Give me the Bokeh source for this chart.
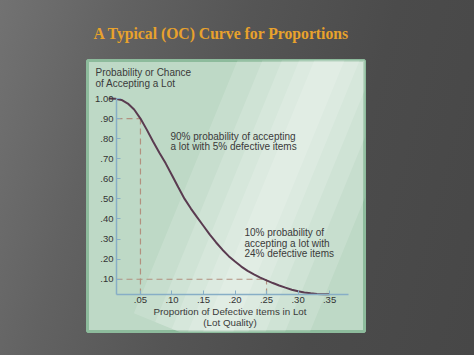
import math
from bokeh.plotting import figure
from bokeh.models import Label, FixedTicker, Range1d, GlobalInlineStyleSheet, PolyAnnotation
from bokeh.embed import file_html
from bokeh.resources import INLINE

# ---------------- data ----------------
defect = [0.00, 0.01, 0.02, 0.03, 0.04, 0.05, 0.06, 0.07, 0.08, 0.09,
          0.10, 0.11, 0.12, 0.13, 0.14, 0.15, 0.16, 0.17, 0.18, 0.19,
          0.20, 0.21, 0.22, 0.23, 0.24, 0.25, 0.26, 0.27, 0.28, 0.29,
          0.30, 0.31, 0.32, 0.33, 0.34, 0.35]
p_accept = [1.000, 0.999, 0.993, 0.975, 0.945, 0.900, 0.845, 0.786, 0.730, 0.677,
            0.618, 0.558, 0.500, 0.452, 0.408, 0.365, 0.322, 0.283, 0.247, 0.215,
            0.188, 0.163, 0.142, 0.124, 0.108, 0.094, 0.081, 0.069, 0.058, 0.048,
            0.040, 0.034, 0.030, 0.027, 0.025, 0.025]

ref_defect = [0.05, 0.25]     # marked lot qualities
ref_accept = [0.90, 0.10]     # their acceptance probabilities

x_ticks = [0.05, 0.10, 0.15, 0.20, 0.25, 0.30, 0.35]
x_tick_labels = [".05", ".10", ".15", ".20", ".25", ".30", ".35"]
y_ticks = [0.10, 0.20, 0.30, 0.40, 0.50, 0.60, 0.70, 0.80, 0.90, 1.00]
y_tick_labels = [".10", ".20", ".30", ".40", ".50", ".60", ".70", ".80", ".90", "1.00"]

title_text = "A Typical (OC) Curve for Proportions"
y_title = ["Probability or Chance", "of Accepting a Lot"]
x_title = ["Proportion of Defective Items in Lot", "(Lot Quality)"]
note_90 = ["90% probability of accepting", "a lot  with 5% defective items"]
note_10 = ["10% probability of", "accepting a lot with", "24% defective items"]

# ---------------- layout ----------------
W, H = 458, 339
AX_X0, AX_X1 = 0.012, 0.380       # extent of the drawn x axis
AX_Y0, AX_Y1 = 0.024, 1.0         # extent of the drawn y axis
AX_LEFT, AX_RIGHT, AX_TOP, AX_BOTTOM = 116, 348, 98, 294      # axis box, px
PANEL_LEFT, PANEL_RIGHT, PANEL_TOP, PANEL_BOTTOM = 87, 364, 60, 331  # green panel, px

kx = (AX_X1 - AX_X0) / (AX_RIGHT - AX_LEFT)
ky = (AX_Y1 - AX_Y0) / (AX_BOTTOM - AX_TOP)


def dx(px):
    return AX_X0 + (px - AX_LEFT) * kx


def dy(py):
    return AX_Y0 + (AX_BOTTOM - py) * ky


SANS = "Liberation Sans"
PAGE_CSS = ("html { min-height: 100%; background: linear-gradient(105deg, "
            "#727272 0%, #626262 22%, #555555 45%, #4b4b4b 70%, #474747 100%); }"
            " body { background: transparent; }")

p = figure(width=W, height=H, output_backend="svg", toolbar_location=None,
           x_range=Range1d(dx(PANEL_LEFT), dx(PANEL_RIGHT)),
           y_range=Range1d(dy(PANEL_BOTTOM), dy(PANEL_TOP)),
           min_border_left=PANEL_LEFT, min_border_right=W - PANEL_RIGHT,
           min_border_top=PANEL_TOP, min_border_bottom=max(H - PANEL_BOTTOM, 0))
p.border_fill_alpha = 0
p.background_fill_color = "#bed9c6"
p.outline_line_color = "#8dbb9c"
p.outline_line_width = 3
p.grid.visible = False
p.stylesheets = [GlobalInlineStyleSheet(css=PAGE_CSS)]

# soft diagonal sheen on the panel (stacked translucent bands)
SHEEN_A, SHEEN_B = (212, 345), (335, 45)
ddx, ddy = SHEEN_B[0] - SHEEN_A[0], SHEEN_B[1] - SHEEN_A[1]
dlen = math.hypot(ddx, ddy)
nx, ny = -ddy / dlen, ddx / dlen
for half_w in (85, 62, 44, 28, 14):
    pts = [(SHEEN_A[0] + half_w * nx, SHEEN_A[1] + half_w * ny),
           (SHEEN_B[0] + half_w * nx, SHEEN_B[1] + half_w * ny),
           (SHEEN_B[0] - half_w * nx, SHEEN_B[1] - half_w * ny),
           (SHEEN_A[0] - half_w * nx, SHEEN_A[1] - half_w * ny)]
    p.add_layout(PolyAnnotation(xs=[dx(a) for a, b in pts], ys=[dy(b) for a, b in pts],
                                xs_units="data", ys_units="data",
                                fill_color="white", fill_alpha=0.15,
                                line_color=None, level="underlay"))

p.title.text = title_text
p.title.text_font = "Liberation Serif"
p.title.text_font_style = "bold"
p.title.text_font_size = "15.7px"
p.title.text_color = "#e8a22c"
p.title.align = "left"
p.title.vertical_align = "top"
p.title.offset = 93 - PANEL_LEFT
p.title.standoff = 34

# axes
p.xaxis.fixed_location = AX_Y0
p.yaxis.fixed_location = AX_X0
p.xaxis.bounds = (AX_X0, AX_X1)
p.yaxis.bounds = (AX_Y0, AX_Y1)
for ax in (p.xaxis[0], p.yaxis[0]):
    ax.axis_line_color = "#87aec6"
    ax.axis_line_width = 1.5
    ax.major_tick_line_color = "#87aec6"
    ax.major_tick_in = 4
    ax.major_tick_out = 0
    ax.minor_tick_line_color = None
    ax.major_label_text_font = SANS
    ax.major_label_text_font_size = "9.5px"
    ax.major_label_text_color = "#333333"
p.xaxis.major_label_standoff = 2
p.yaxis.major_label_standoff = 3

p.xaxis.ticker = FixedTicker(ticks=x_ticks)
p.yaxis.ticker = FixedTicker(ticks=y_ticks)
p.xaxis.major_label_overrides = dict(zip(x_ticks, x_tick_labels))
p.yaxis.major_label_overrides = dict(zip(y_ticks, y_tick_labels))

# dashed reference lines
dash_kw = dict(line_color="#b3907f", line_width=1.2, line_dash="6 4")
p.segment(x0=ref_defect, y0=[AX_Y0] * len(ref_defect), x1=ref_defect, y1=ref_accept, **dash_kw)
p.segment(x0=[AX_X0] * len(ref_accept), y0=ref_accept, x1=ref_defect, y1=ref_accept, **dash_kw)

# OC curve
p.line(defect, p_accept, line_color="#5a3b50", line_width=2)


def lines(texts, x_px, first_center_px, step, align="left", size="10px"):
    for i, t in enumerate(texts):
        p.add_layout(Label(x=dx(x_px), y=dy(first_center_px + i * step), text=t,
                           text_font=SANS, text_font_size=size, text_color="#3a3a3a",
                           text_baseline="middle", text_align=align))


lines(y_title, 95, 72.3, 10.5)
lines(note_90, 170, 136, 10)
lines(note_10, 244, 232.3, 10.3)
lines(x_title, 229.5, 310.5, 11, align="center", size="9.8px")

open("out.html", "w").write(file_html(p, INLINE))
